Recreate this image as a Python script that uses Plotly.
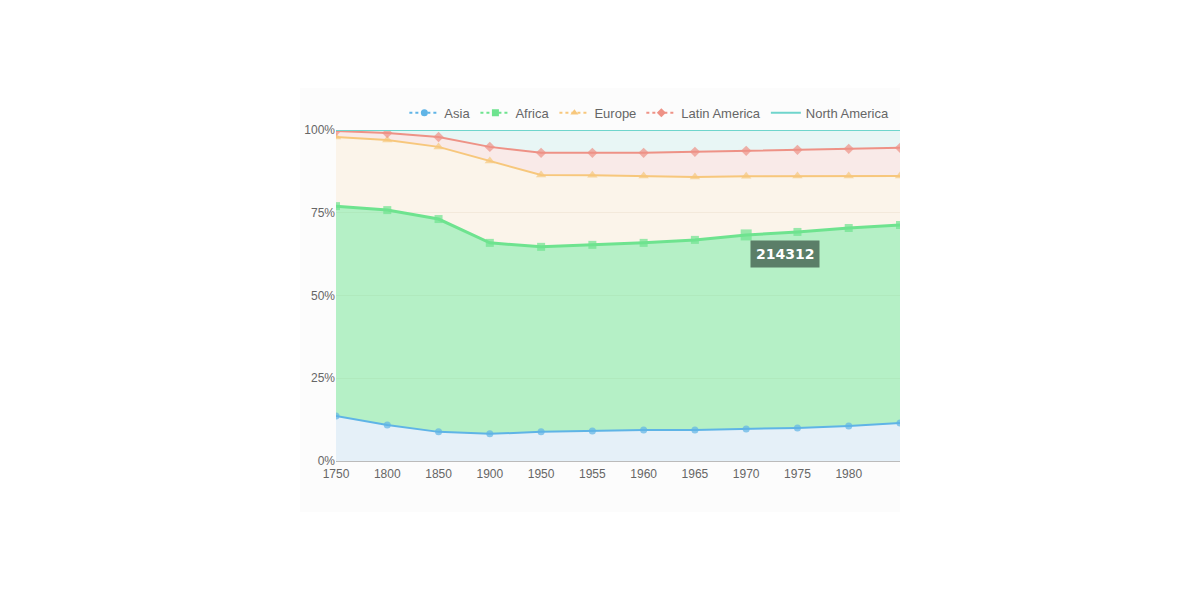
import plotly.graph_objects as go

years = ["1750", "1800", "1850", "1900", "1950", "1955", "1960", "1965", "1970", "1975", "1980", "1985"]
tick_years = years[:-1]

asia = [13.6, 10.9, 8.8, 8.2, 8.8, 9.1, 9.4, 9.4, 9.7, 10.0, 10.6, 11.5]
africa = [63.4, 64.9, 64.3, 57.7, 55.9, 56.2, 56.5, 57.4, 58.6, 59.2, 59.8, 59.8]
europe = [20.9, 21.2, 21.8, 24.7, 21.7, 21.0, 20.2, 19.0, 17.7, 16.9, 15.7, 14.8]
latin_america = [1.8, 2.1, 3.0, 4.3, 6.7, 6.8, 7.0, 7.6, 7.7, 7.9, 8.2, 8.5]
north_america = [0.3, 0.9, 2.1, 5.1, 6.9, 6.9, 6.9, 6.6, 6.3, 6.0, 5.7, 5.4]

y_ticks = [0, 25, 50, 75, 100]
y_tick_labels = ["0%", "25%", "50%", "75%", "100%"]

tooltip_year = "1970"
tooltip_text = "214312"

series = [
    ("Asia", asia, "#5fb4e6", "rgba(95,170,230,0.14)", "circle", 2, 7),
    ("Africa", africa, "#6ee38f", "rgba(110,227,143,0.5)", "square", 3, 8),
    ("Europe", europe, "#f7c77c", "rgba(247,199,124,0.14)", "triangle-up", 2, 9),
    ("Latin America", latin_america, "#ee9286", "rgba(238,146,134,0.17)", "diamond", 2, 8),
    ("North America", north_america, "#6fd5cc", "rgba(111,213,204,0.14)", None, 2, 0),
]

fig = go.Figure()
for name, vals, color, fill, symbol, width, msize in series:
    sizes = [msize] * len(years)
    if name == "Africa":
        sizes[years.index(tooltip_year)] = 11
    fig.add_trace(go.Scatter(
        x=years, y=vals, name=name,
        stackgroup="one", groupnorm="percent",
        mode="lines+markers" if symbol else "lines",
        line=dict(color=color, width=width),
        marker=dict(symbol=symbol or "circle", size=sizes, color=color, line=dict(width=0)),
        fillcolor=fill,
        hoverinfo="skip", showlegend=False,
    ))
# legend-only entries (line + marker icons, no fill swatch)
for name, vals, color, fill, symbol, width, msize in series:
    fig.add_trace(go.Scatter(
        x=[None], y=[None], name=name,
        mode="lines+markers" if symbol else "lines",
        line=dict(color=color, width=2, dash="dot" if symbol else "solid"),
        marker=dict(symbol=symbol or "circle", size=7, color=color, line=dict(width=0)),
        showlegend=True, hoverinfo="skip",
    ))

# tooltip annotation
idx = years.index(tooltip_year)
totals = [a + b + c + d + e for a, b, c, d, e in zip(asia, africa, europe, latin_america, north_america)]
africa_top_pct = (asia[idx] + africa[idx]) / totals[idx] * 100
fig.add_annotation(
    x=idx, y=africa_top_pct, xref="x", yref="y",
    text="<b>" + tooltip_text + "</b>", showarrow=False,
    xanchor="left", yanchor="top", xshift=4, yshift=-5,
    font=dict(color="white", size=14, family="DejaVu Sans"),
    bgcolor="rgba(84,116,96,0.92)", borderpad=5,
)

fig.add_shape(type="rect", xref="paper", yref="paper",
              x0=-0.064, x1=1.0, y0=-0.154, y1=1.127,
              fillcolor="#fcfcfc", line=dict(width=0), layer="below")

fig.update_layout(
    width=1200, height=600,
    margin=dict(l=328, r=308, t=122, b=147),
    paper_bgcolor="white", plot_bgcolor="rgba(0,0,0,0)",
    font=dict(family="Liberation Sans, Arial, sans-serif", color="#666", size=12),
    showlegend=True,
    legend=dict(orientation="h", x=0.99, xanchor="right", y=1.052, yanchor="middle",
                font=dict(size=13, color="#666"), bgcolor="rgba(0,0,0,0)",
                itemwidth=30, traceorder="normal"),
    xaxis=dict(type="category", range=[0, len(years) - 1], tickvals=tick_years,
               showgrid=False, showline=True, linecolor="#bbb", linewidth=1,
               ticks="", tickfont=dict(size=12, color="#666"), zeroline=False,
               ticklabelstandoff=2),
    yaxis=dict(range=[0, 100], tickvals=y_ticks, ticktext=y_tick_labels,
               showgrid=True, gridcolor="#f3efeb", gridwidth=1, zeroline=False,
               showline=False, ticks="", tickfont=dict(size=12, color="#666")),
)

fig.write_html("out.html")
